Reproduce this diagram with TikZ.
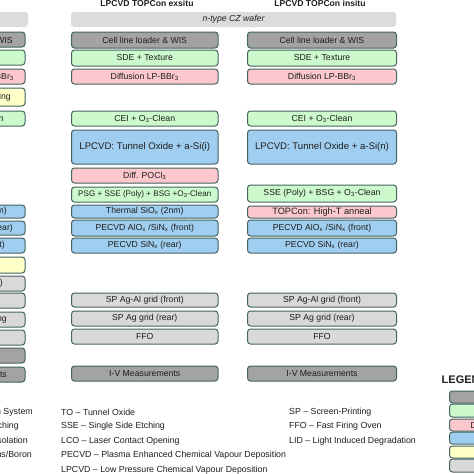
\documentclass[tikz,border=0pt]{standalone}
\usepackage{fontspec}
\setmainfont{Liberation Sans}
\definecolor{bord}{RGB}{68,100,96}
\definecolor{cdark}{RGB}{163,163,163}
\definecolor{cgreen}{RGB}{204,250,204}
\definecolor{cpink}{RGB}{252,200,206}
\definecolor{cblue}{RGB}{160,206,240}
\definecolor{cyellow}{RGB}{255,255,200}
\definecolor{clight}{RGB}{217,217,217}
\definecolor{cwafer}{RGB}{220,220,220}
\definecolor{txt}{RGB}{30,30,30}
\tikzset{
  box/.style={draw=bord, line width=1pt, rounded corners=3pt, inner sep=0pt, text=txt,
    font=\fontsize{8.7}{10}\selectfont},
  mcol/.style={box, minimum width=146.5pt},
  rcol/.style={box, minimum width=149pt},
  lcol/.style={box, minimum width=150pt},
  dk/.style={fill=cdark}, gr/.style={fill=cgreen}, pk/.style={fill=cpink},
  bl/.style={fill=cblue}, yl/.style={fill=cyellow}, lg/.style={fill=clight},
  lbl/.style={inner sep=0pt, text=txt, font=\fontsize{8.7}{10}\selectfont},
  abbr/.style={inner sep=0pt, text=txt, font=\fontsize{8.8}{10}\selectfont},
  title/.style={inner sep=0pt, text=txt, font=\bfseries\fontsize{8.6}{10}\selectfont},
  wafer/.style={fill=cwafer, rounded corners=3pt, inner sep=0pt, text=txt,
    font=\itshape\fontsize{8.7}{10}\selectfont}
}
\begin{document}
\begin{tikzpicture}[x=1pt,y=-1pt]
\clip (0,0) rectangle (474,474);
\fill[white] (0,0) rectangle (474,474);

% titles
\node[title] (t2) at (147,3) {LPCVD TOPCon exsitu};
\node[title] (t3) at (320,3) {LPCVD TOPCon insitu};

% wafer bars
\node[wafer, minimum width=150pt, minimum height=15pt] (w1) at (-47,19.5) {};
\node[wafer, minimum width=325pt, minimum height=15pt] (w2) at (233.5,19.5) {n-type CZ wafer};

% ---------- left column (cut off) ----------
\node[lcol,dk,minimum height=15pt] (l1) at (-50,39.5) {};
\node[lcol,gr,minimum height=15pt] (l2) at (-50,57.5) {};
\node[lcol,pk,minimum height=15pt] (l3) at (-50,76.5) {};
\node[lcol,yl,minimum height=18pt] (l4) at (-50,97) {};
\node[lcol,gr,minimum height=15pt] (l5) at (-50,118.5) {};
\node[lcol,bl,minimum height=13pt] (l6) at (-50,211.5) {};
\node[lcol,bl,minimum height=14pt] (l7) at (-50,228) {};
\node[lcol,bl,minimum height=15pt] (l8) at (-50,245.5) {};
\node[lcol,yl,minimum height=16pt] (l9) at (-50,265) {};
\node[lcol,lg,minimum height=15pt] (l10) at (-50,283.5) {};
\node[lcol,lg,minimum height=15pt] (l11) at (-50,300.5) {};
\node[lcol,lg,minimum height=15pt] (l12) at (-50,319.5) {};
\node[lcol,lg,minimum height=15pt] (l13) at (-50,337.5) {};
\node[lcol,dk,minimum height=15pt] (l14) at (-50,355.5) {};
\node[lcol,dk,minimum height=15pt] (l15) at (-50,374.5) {};

\node[lbl,anchor=east] (lt1) at (13,40) {Cell line loader \& WIS};
\node[lbl,anchor=east] (lt2) at (-6,58) {SDE + Texture};
\node[lbl,anchor=east] (lt3) at (14,76.5) {Diffusion LP-BBr\textsubscript{3}};
\node[lbl,anchor=east] (lt4) at (11,97) {Laser Doping};
\node[lbl,anchor=east] (lt5) at (4,118.5) {CEI + O\textsubscript{3}-Clean};
\node[lbl,anchor=east] (lt6) at (7,211.5) {Thermal SiO\textsubscript{x} (2nm)};
\node[lbl,anchor=east] (lt7) at (13,228) {PECVD SiN\textsubscript{x} (rear)};
\node[lbl,anchor=east] (lt8) at (5,245.5) {PECVD AlO\textsubscript{x}/SiN\textsubscript{x} (front)};
\node[lbl,anchor=east] (lt10) at (3,283.5) {SP Ag grid (front)};
\node[lbl,anchor=east] (lt12) at (7,319.5) {Light Soaking};
\node[lbl,anchor=east] (lt15) at (7,374.5) {I-V Measurements};

% ---------- middle column ----------
\node[mcol,dk,minimum height=16pt] (m1) at (144.75,40) {Cell line loader \& WIS};
\node[mcol,gr,minimum height=16pt] (m2) at (144.75,58) {SDE + Texture};
\node[mcol,pk,minimum height=15pt] (m3) at (144.75,76.5) {Diffusion LP-BBr\textsubscript{3}};
\node[mcol,gr,minimum height=15pt] (m4) at (144.75,118.5) {CEI + O\textsubscript{3}-Clean};
\node[mcol,bl,minimum height=34pt,font=\fontsize{9.6}{11}\selectfont] (m5) at (144.75,147) {LPCVD: Tunnel Oxide + a-Si(i)};
\node[mcol,pk,minimum height=15pt] (m6) at (144.75,175.5) {Diff. POCl\textsubscript{3}};
\node[mcol,gr,minimum height=15pt,font=\fontsize{8.1}{10}\selectfont] (m7) at (144.75,194.5) {PSG + SSE (Poly) + BSG +O\textsubscript{3}-Clean};
\node[mcol,bl,minimum height=13pt] (m8) at (144.75,211.5) {Thermal SiO\textsubscript{x} (2nm)};
\node[mcol,bl,minimum height=16pt] (m9) at (144.75,228) {PECVD AlO\textsubscript{x} /SiN\textsubscript{x} (front)};
\node[mcol,bl,minimum height=15pt] (m10) at (144.75,245.5) {PECVD SiN\textsubscript{x} (rear)};
\node[mcol,lg,minimum height=14pt] (m11) at (144.75,300) {SP Ag-Al grid (front)};
\node[mcol,lg,minimum height=15pt] (m12) at (144.75,318.5) {SP Ag grid (rear)};
\node[mcol,lg,minimum height=15pt] (m13) at (144.75,336.5) {FFO};
\node[mcol,dk,minimum height=15pt] (m14) at (144.75,373.5) {I-V Measurements};

% ---------- right column ----------
\node[rcol,dk,minimum height=16pt] (r1) at (322,40) {Cell line loader \& WIS};
\node[rcol,gr,minimum height=16pt] (r2) at (322,58) {SDE + Texture};
\node[rcol,pk,minimum height=15pt] (r3) at (322,76.5) {Diffusion LP-BBr\textsubscript{3}};
\node[rcol,gr,minimum height=15pt] (r4) at (322,118.5) {CEI + O\textsubscript{3}-Clean};
\node[rcol,bl,minimum height=34pt,font=\fontsize{9.6}{11}\selectfont] (r5) at (322,147) {LPCVD: Tunnel Oxide + a-Si(n)};
\node[rcol,gr,minimum height=17pt] (r6) at (322,193.5) {SSE (Poly) + BSG + O\textsubscript{3}-Clean};
\node[rcol,pk,minimum height=12pt,font=\fontsize{9.2}{10}\selectfont] (r7) at (322,212) {TOPCon: High-T anneal};
\node[rcol,bl,minimum height=16pt] (r8) at (322,228) {PECVD AlO\textsubscript{x} /SiN\textsubscript{x} (front)};
\node[rcol,bl,minimum height=15pt] (r9) at (322,245.5) {PECVD SiN\textsubscript{x} (rear)};
\node[rcol,lg,minimum height=14pt] (r10) at (322,300) {SP Ag-Al grid (front)};
\node[rcol,lg,minimum height=15pt] (r11) at (322,318.5) {SP Ag grid (rear)};
\node[rcol,lg,minimum height=15pt] (r12) at (322,336.5) {FFO};
\node[rcol,dk,minimum height=15pt] (r13) at (322,373.5) {I-V Measurements};

% ---------- abbreviations ----------
\node[abbr,anchor=east] (a1) at (33,412) {WIS – Wafer Inspection System};
\node[abbr,anchor=east] (a2) at (19,426.5) {SDE – Saw Damage Etching};
\node[abbr,anchor=east] (a3) at (28,441) {LEI – Laser Edge Isolation};
\node[abbr,anchor=east] (a4) at (32,455.5) {PSG/BSG – Glass of Phosphorus/Boron};

\node[abbr,anchor=west] (b1) at (61,412) {TO – Tunnel Oxide};
\node[abbr,anchor=west] (b2) at (61,426.5) {SSE – Single Side Etching};
\node[abbr,anchor=west] (b3) at (61,441) {LCO – Laser Contact Opening};
\node[abbr,anchor=west] (b4) at (61,455.5) {PECVD – Plasma Enhanced Chemical Vapour Deposition};
\node[abbr,anchor=west] (b5) at (61,470) {LPCVD – Low Pressure Chemical Vapour Deposition};

\node[abbr,anchor=west] (c1) at (289,412) {SP – Screen-Printing};
\node[abbr,anchor=west] (c2) at (289,426.5) {FFO – Fast Firing Oven};
\node[abbr,anchor=west] (c3) at (289,441) {LID – Light Induced Degradation};

% ---------- legend ----------
\node[title,anchor=west,font=\bfseries\fontsize{11}{12}\selectfont] (lg) at (441.5,380) {LEGEND};
\node[box,dk,anchor=west,minimum width=80pt,minimum height=12pt] (g1) at (449,397) {};
\node[box,gr,anchor=west,minimum width=80pt,minimum height=13pt] (g2) at (449,410.5) {};
\node[box,pk,anchor=west,minimum width=80pt,minimum height=12pt] (g3) at (449,425) {};
\node[box,bl,anchor=west,minimum width=80pt,minimum height=12pt] (g4) at (449,438) {};
\node[box,yl,anchor=west,minimum width=80pt,minimum height=12pt] (g5) at (449,452) {};
\node[box,lg,anchor=west,minimum width=80pt,minimum height=13pt] (g6) at (449,465.5) {};
\node[lbl,anchor=west] (g3t) at (470.5,425) {Diffusion};
\end{tikzpicture}
\end{document}
